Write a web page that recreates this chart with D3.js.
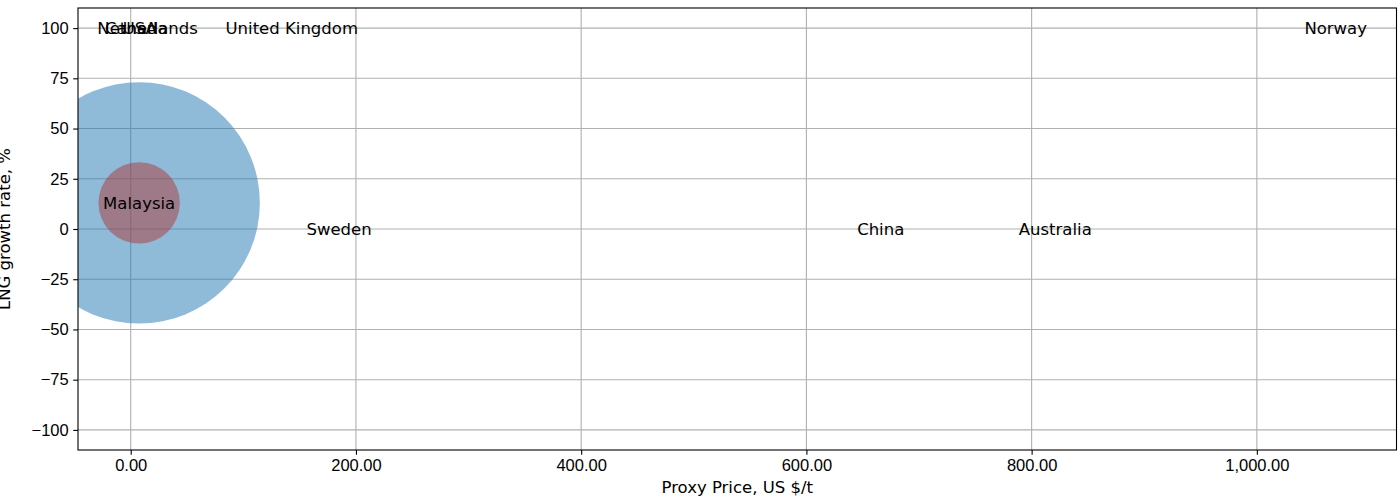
<!DOCTYPE html>
<html>
<head>
    <style>
        body { margin: 0; background: #fff; }
        svg { font-family: "DejaVu Sans", sans-serif; }
        .tick text { font-size: 16.5px; fill: #000; }
        .label { font-size: 16.5px; fill: #000; text-anchor: middle; }
    </style>
    <script src="https://d3js.org/d3.v7.min.js"></script>
</head>
<body>
    <svg width="1400" height="497"></svg>
    <script>
        // data
        var countries = ["Netherlands", "Canada", "USA", "United Kingdom", "Malaysia", "Sweden", "China", "Australia", "Norway"];
        var prices    = [15, 5, 8, 143, 7.5, 185, 666, 821, 1070];
        var growth    = [100, 100, 100, 100, 13, 0, 0, 0, 100];
        var sizeOuter = [0, 0, 0, 0, 88, 0, 0, 0, 0];
        var sizeInner = [0, 0, 0, 0, 10, 0, 0, 0, 0];
        var yTicks    = [-100, -75, -50, -25, 0, 25, 50, 75, 100];
        var xTicks    = [0, 200, 400, 600, 800, 1000];

        var svg = d3.select("svg"),
            width = +svg.attr("width"),
            height = +svg.attr("height"),
            margin = {top: 8, right: 3.5, bottom: 47, left: 78},
            innerW = width - margin.left - margin.right,
            innerH = height - margin.top - margin.bottom;

        var x = d3.scaleLinear().domain([-46.8, 1124]).range([0, innerW]);
        var y = d3.scaleLinear().domain([-110, 110]).range([innerH, 0]);
        var r = d3.scaleSqrt().domain([0, 88]).range([0, 120.7]);

        var g = svg.append("g")
                   .attr("transform", "translate(" + margin.left + "," + margin.top + ")");

        svg.append("defs").append("clipPath").attr("id", "plot")
           .append("rect").attr("width", innerW).attr("height", innerH);

        // grid
        g.append("g").selectAll("line").data(xTicks).enter().append("line")
         .attr("x1", function(d) { return x(d); }).attr("x2", function(d) { return x(d); })
         .attr("y1", 0).attr("y2", innerH)
         .attr("stroke", "#b0b0b0").attr("stroke-width", 1.1);
        g.append("g").selectAll("line").data(yTicks).enter().append("line")
         .attr("y1", function(d) { return y(d); }).attr("y2", function(d) { return y(d); })
         .attr("x1", 0).attr("x2", innerW)
         .attr("stroke", "#b0b0b0").attr("stroke-width", 1.1);

        var data = countries.map(function(c, i) {
            return {name: c, price: prices[i], growth: growth[i], outer: sizeOuter[i], inner: sizeInner[i]};
        });

        var bubbles = g.append("g").attr("clip-path", "url(#plot)");
        bubbles.selectAll(".outer").data(data.filter(function(d) { return d.outer > 0; }))
           .enter().append("circle").attr("class", "outer")
           .attr("cx", function(d) { return x(d.price); })
           .attr("cy", function(d) { return y(d.growth); })
           .attr("r", function(d) { return r(d.outer); })
           .attr("fill", "#1f77b4").attr("fill-opacity", 0.5);
        bubbles.selectAll(".inner").data(data.filter(function(d) { return d.inner > 0; }))
           .enter().append("circle").attr("class", "inner")
           .attr("cx", function(d) { return x(d.price); })
           .attr("cy", function(d) { return y(d.growth); })
           .attr("r", function(d) { return r(d.inner); })
           .attr("fill", "#ad3a3a").attr("fill-opacity", 0.5);

        // axes
        var fmtY = function(d) { return d < 0 ? "\u2212" + Math.abs(d) : d; };
        var xAxis = g.append("g").attr("transform", "translate(0," + innerH + ")")
                     .call(d3.axisBottom(x).tickValues(xTicks).tickFormat(d3.format(",.2f")).tickSizeOuter(0).tickSize(4.8).tickPadding(4.5));
        var yAxis = g.append("g")
                     .call(d3.axisLeft(y).tickValues(yTicks).tickFormat(fmtY).tickSizeOuter(0).tickSize(4.8).tickPadding(4.5));
        [xAxis, yAxis].forEach(function(a) {
            a.select(".domain").remove();
            a.selectAll(".tick line").attr("stroke", "#000").attr("stroke-width", 1.1);
        });

        g.append("rect").attr("width", innerW).attr("height", innerH)
         .attr("fill", "none").attr("stroke", "#000").attr("stroke-width", 1.1);

        // country labels
        g.selectAll(".label").data(data).enter().append("text")
         .attr("class", "label")
         .attr("x", function(d) { return x(d.price); })
         .attr("y", function(d) { return y(d.growth); })
         .attr("dy", "0.36em")
         .text(function(d) { return d.name; });

        svg.append("text").attr("class", "label")
           .attr("x", margin.left + innerW / 2).attr("y", 493)
           .text("Proxy Price, US $/t");

        // y label sits partly off the left edge, as in the source
        svg.append("text").attr("class", "label")
           .attr("transform", "translate(10," + (margin.top + innerH / 2) + ") rotate(-90)")
           .text("LNG growth rate, %");
    </script>
</body>
</html>
